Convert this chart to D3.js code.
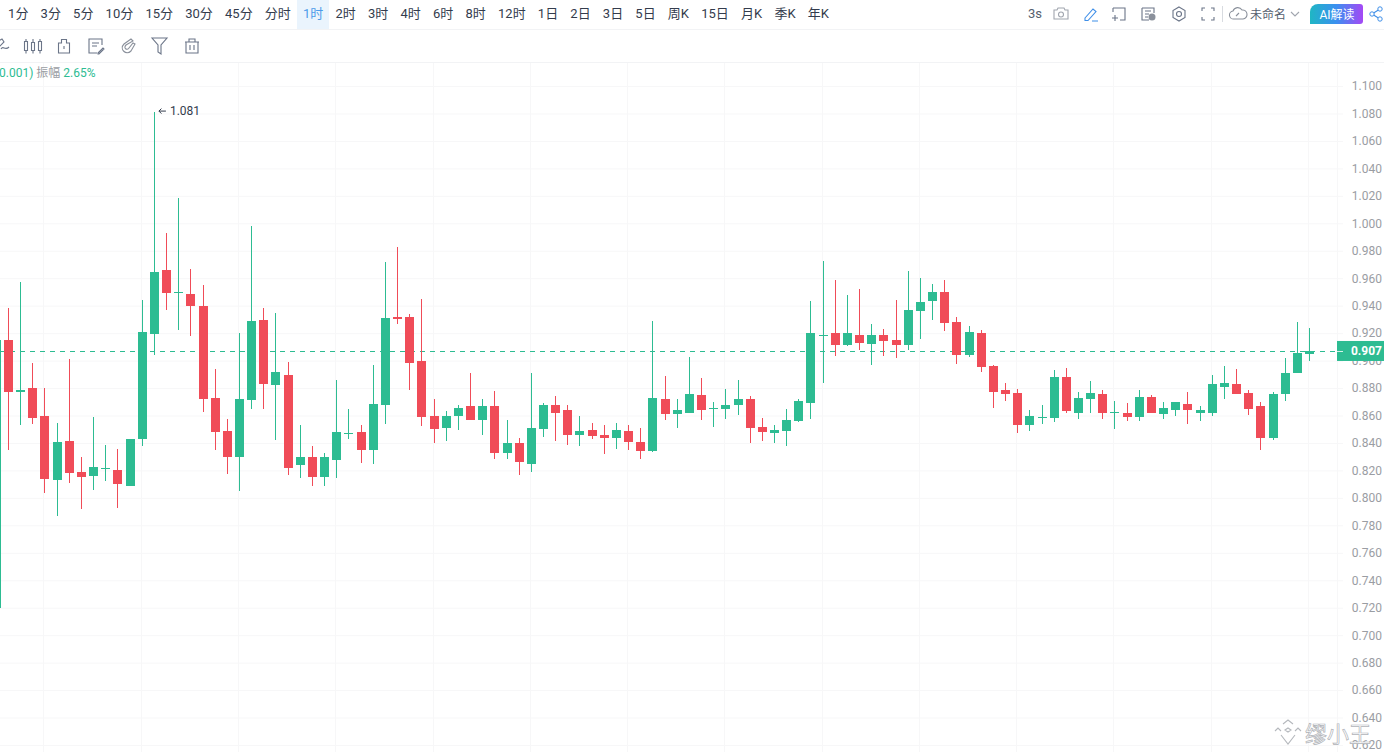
<!DOCTYPE html>
<html>
<head>
<meta charset="utf-8">
<script src="https://cdn.jsdelivr.net/npm/d3@7"></script>
<style>
  html, body { margin: 0; padding: 0; background: #fff; overflow: hidden; }
  #wrap { position: relative; width: 1384px; height: 752px; overflow: hidden; }
  svg { position: absolute; left: 0; top: 0; }
  text { font-family: Roboto, "Noto Sans CJK SC", sans-serif; }
  #periods { position: absolute; left: 2px; top: 0; height: 29px; display: flex; font: 13px/27px Roboto, "Noto Sans CJK SC", sans-serif; color: #333c4d; }
  #periods span { padding: 0 6.1px; white-space: nowrap; }
  #periods span.on { background: #eaf4fd; color: #4c9bea; }
</style>
</head>
<body>
<div id="wrap">
  <svg id="chart" width="1384" height="752"></svg>
  <div id="periods"></div>
</div>
<script>
var periods = ["1分","3分","5分","10分","15分","30分","45分","分时","1时","2时","3时","4时","6时","8时","12时","1日","2日","3日","5日","周K","15日","月K","季K","年K"];
var activePeriod = "1时";

var priceTicks = [1.10,1.08,1.06,1.04,1.02,1.00,0.98,0.96,0.94,0.92,0.90,0.88,0.86,0.84,0.82,0.80,0.78,0.76,0.74,0.72,0.70,0.68,0.66,0.64,0.62];
var lastPrice = 0.907;
var peakPrice = 1.081;

// first candle is cut off by the left edge of the window
var opens = [0.7199,0.9150,0.8772,0.8801,0.8597,0.8131,0.8415,0.8189,0.8160,0.8211,0.8204,0.8087,0.8430,0.9194,0.9660,0.9492,0.9485,0.9398,0.8728,0.8488,0.8298,0.8713,0.9296,0.8823,0.8895,0.8240,0.8298,0.8153,0.8277,0.8462,0.8480,0.8349,0.8677,0.9318,0.9318,0.8997,0.8597,0.8510,0.8597,0.8670,0.8568,0.8670,0.8328,0.8400,0.8248,0.8502,0.8677,0.8641,0.8459,0.8495,0.8459,0.8437,0.8488,0.8408,0.8342,0.8721,0.8612,0.8619,0.8750,0.8648,0.8648,0.8677,0.8721,0.8517,0.8473,0.8488,0.8561,0.8692,0.9180,0.9201,0.9114,0.9187,0.9121,0.9187,0.9150,0.9114,0.9361,0.9434,0.9500,0.9281,0.9041,0.9201,0.8961,0.8786,0.8764,0.8531,0.8585,0.8582,0.8881,0.8619,0.8721,0.8757,0.8622,0.8619,0.8590,0.8735,0.8612,0.8641,0.8684,0.8619,0.8619,0.8808,0.8830,0.8764,0.8670,0.8437,0.8757,0.8910,0.9048];
var highs = [0.9150,0.9383,0.9572,0.8983,0.8801,0.8546,0.9012,0.8298,0.8590,0.8386,0.8357,0.8430,0.9441,1.0810,0.9929,1.0184,0.9667,0.9551,0.8939,0.8575,0.9201,0.9980,0.9383,0.9347,0.8990,0.8531,0.8379,0.8328,0.8859,0.8648,0.8531,0.8968,0.9718,0.9827,0.9340,0.9449,0.8721,0.8633,0.8677,0.8910,0.8721,0.8779,0.8568,0.8437,0.8910,0.8692,0.8743,0.8677,0.8597,0.8546,0.8531,0.8546,0.8531,0.8510,0.9289,0.8888,0.8721,0.9026,0.8874,0.8699,0.8794,0.8859,0.8743,0.8582,0.8531,0.8648,0.8721,0.9434,0.9725,0.9587,0.9478,0.9522,0.9267,0.9230,0.9441,0.9653,0.9602,0.9558,0.9587,0.9318,0.9252,0.9223,0.8968,0.8837,0.8794,0.8641,0.8677,0.8932,0.8946,0.8772,0.8852,0.8786,0.8706,0.8692,0.8786,0.8750,0.8699,0.8699,0.8772,0.8670,0.8895,0.8961,0.8939,0.8786,0.8699,0.8772,0.9019,0.9281,0.9238];
var lows = [0.7199,0.8349,0.8531,0.8539,0.8036,0.7869,0.8109,0.7920,0.8058,0.8124,0.7927,0.8087,0.8379,0.9041,0.9369,0.9223,0.9179,0.8626,0.8349,0.8175,0.8051,0.8648,0.8648,0.8422,0.8167,0.8146,0.8087,0.8087,0.8146,0.8430,0.8255,0.8248,0.8539,0.9267,0.8786,0.8524,0.8400,0.8415,0.8495,0.8568,0.8459,0.8284,0.8284,0.8167,0.8189,0.8444,0.8415,0.8386,0.8379,0.8430,0.8320,0.8357,0.8349,0.8284,0.8335,0.8568,0.8510,0.8619,0.8568,0.8517,0.8575,0.8604,0.8400,0.8415,0.8400,0.8379,0.8553,0.8575,0.8837,0.9034,0.9107,0.9077,0.8968,0.9034,0.9019,0.9077,0.9158,0.9296,0.9216,0.8976,0.9026,0.8917,0.8655,0.8706,0.8473,0.8488,0.8539,0.8553,0.8619,0.8575,0.8619,0.8575,0.8502,0.8561,0.8561,0.8619,0.8575,0.8597,0.8539,0.8561,0.8597,0.8721,0.8757,0.8604,0.8349,0.8422,0.8706,0.8910,0.8997];
var closes = [0.9150,0.8772,0.8786,0.8582,0.8138,0.8408,0.8182,0.8153,0.8226,0.8218,0.8102,0.8430,0.9208,0.9645,0.9492,0.9500,0.9398,0.8721,0.8480,0.8298,0.8721,0.9289,0.8830,0.8917,0.8218,0.8298,0.8153,0.8298,0.8480,0.8470,0.8349,0.8684,0.9310,0.9303,0.8983,0.8590,0.8502,0.8597,0.8655,0.8568,0.8670,0.8328,0.8400,0.8262,0.8510,0.8677,0.8619,0.8459,0.8488,0.8451,0.8437,0.8495,0.8408,0.8342,0.8728,0.8612,0.8641,0.8757,0.8641,0.8655,0.8677,0.8721,0.8510,0.8480,0.8495,0.8568,0.8706,0.9201,0.9187,0.9114,0.9201,0.9128,0.9187,0.9143,0.9114,0.9369,0.9427,0.9500,0.9274,0.9041,0.9208,0.8954,0.8772,0.8757,0.8531,0.8597,0.8590,0.8881,0.8633,0.8728,0.8764,0.8619,0.8626,0.8590,0.8735,0.8619,0.8655,0.8699,0.8641,0.8641,0.8830,0.8837,0.8757,0.8648,0.8437,0.8757,0.8910,0.9056,0.9070];

var green = "#2dbc92", red = "#f04c58", iconGrey = "#6b7588", blue = "#3f8fe8", gridColor = "#f7f7f8";

var svg = d3.select("#chart");

// index -1 is the clipped candle, index 107 the newest one
var x = d3.scaleLinear().domain([0, 107]).range([8.5, 1309.5]);
var y = d3.scaleLinear().domain([0.62, 1.10]).range([745, 86]);
var candles = opens.map(function(o, i) {
  return { i: i - 1, o: o, h: highs[i], l: lows[i], c: closes[i] };
});

// grid
var gridX = d3.range(3, 108, 8);
svg.append("g").selectAll("line").data(gridX).join("line")
  .attr("x1", function(d) { return Math.floor(x(d)) - 0.5; })
  .attr("x2", function(d) { return Math.floor(x(d)) - 0.5; })
  .attr("y1", 62).attr("y2", 752)
  .attr("stroke", gridColor);
svg.append("line").attr("x1", 1337.5).attr("x2", 1337.5).attr("y1", 62).attr("y2", 752).attr("stroke", gridColor);

var axis = d3.axisRight(y).tickValues(priceTicks).tickFormat(d3.format(".3f")).tickSize(1343).tickPadding(0);
var axisG = svg.append("g").call(axis);
axisG.select(".domain").remove();
axisG.selectAll(".tick line").attr("stroke", gridColor);
axisG.selectAll(".tick text")
  .attr("x", 1382).attr("text-anchor", "end")
  .attr("fill", "#9a9da3").style("font-size", "12px").style("font-family", "Roboto");

// last price line goes under the candles
svg.append("line")
  .attr("x1", 0).attr("x2", 1337)
  .attr("y1", Math.round(y(lastPrice)) + 0.5).attr("y2", Math.round(y(lastPrice)) + 0.5)
  .attr("stroke", green).attr("stroke-dasharray", "5,5");

// candles
var candle = svg.append("g").attr("shape-rendering", "crispEdges")
  .selectAll("g").data(candles).join("g")
  .attr("fill", function(d) { return d.c >= d.o ? green : red; });
candle.append("rect")
  .attr("x", function(d) { return Math.floor(x(d.i)); })
  .attr("width", 1)
  .attr("y", function(d) { return Math.round(y(d.h)); })
  .attr("height", function(d) { return Math.max(1, Math.round(y(d.l)) - Math.round(y(d.h))); });
candle.append("rect")
  .attr("x", function(d) { return Math.floor(x(d.i)) - 4; })
  .attr("width", 9)
  .attr("y", function(d) { return Math.round(y(Math.max(d.o, d.c))); })
  .attr("height", function(d) { return Math.max(1, Math.round(y(Math.min(d.o, d.c))) - Math.round(y(Math.max(d.o, d.c)))); });

// peak annotation
var peakX = x(12) + 4.5, peakY = y(peakPrice) - 1;
svg.append("path")
  .attr("d", "M" + peakX + "," + peakY + "h7 M" + peakX + "," + peakY + "l2.5,-2.5 M" + peakX + "," + peakY + "l2.5,2.5")
  .attr("fill", "none").attr("stroke", "#333c4d");
svg.append("text").attr("x", peakX + 11).attr("y", peakY + 4)
  .attr("font-size", 12).attr("fill", "#333c4d").text(d3.format(".3f")(peakPrice));

// last price tag
svg.append("rect").attr("x", 1337).attr("y", y(lastPrice) - 10).attr("width", 47).attr("height", 20).attr("fill", green);
svg.append("rect").attr("x", 1337).attr("y", Math.round(y(lastPrice))).attr("width", 6).attr("height", 1).attr("fill", "#fff").attr("opacity", 0.8);
svg.append("text").attr("x", 1382).attr("y", y(lastPrice) + 4.5).attr("text-anchor", "end")
  .attr("font-size", 12).attr("font-weight", 700).attr("fill", "#fff").text(d3.format(".3f")(lastPrice));

// info row
var info = svg.append("text").attr("x", -1).attr("y", 77).attr("font-size", 12);
info.append("tspan").attr("fill", green).text("0.001)");
info.append("tspan").attr("fill", "#9a9da3").attr("dx", 3).text("振幅");
info.append("tspan").attr("fill", green).attr("dx", 3).text("2.65%");

// toolbars
[29.5, 62.5].forEach(function(ly) {
  svg.append("line").attr("x1", 0).attr("x2", 1384).attr("y1", ly).attr("y2", ly).attr("stroke", "#f2f3f5");
});
d3.select("#periods").selectAll("span").data(periods).join("span")
  .classed("on", function(d) { return d === activePeriod; })
  .text(function(d) { return d; });

function icon(px, py, color, d) {
  return svg.append("path").attr("transform", "translate(" + px + "," + py + ")")
    .attr("d", d).attr("fill", "none").attr("stroke", color).attr("stroke-width", 1.1);
}
// drawing tools row
icon(0, 46, iconGrey, "M-3,-4 L2,-7 L4,-4 L0,0 Z M1,3 C3,-1 5,5 9,1");
icon(33, 46, iconGrey, "M-8.5,-4.5h3v9h-3z M-7,-7v2.5 M-7,4.5v3 M-1.5,-3.5h3v8h-3z M0,-7v3.5 M0,4.5v3 M5.5,-4.5h3v9h-3z M7,-7v2.5 M7,4.5v3");
icon(64, 46, iconGrey, "M-5.5,-3h3v-3.5h5v3.5h3v10h-11z M0,0v3");
icon(96, 46, iconGrey, "M6,-1v-6h-13v14h8 M-4,-3h7 M-4,0h5 M2,7l5,-5l1,1l-5,5h-1z");
icon(128, 46, "#8a909b", "M3,-7 L-4,-2 C-9,3 -2,10 3,5 L7,-2 L5,-3 L1,2 C-1,5 -5,2 -2,-1 L5,-5 Z");
icon(160, 46, iconGrey, "M-8,-8h15l-6,7v9l-3,-2v-7z");
icon(192, 46, iconGrey, "M-7,-4h14 M-6,-4v11h12v-11 M-3,-4v-3h6v3 M-2,-1v5 M2,-1v5");

// right side tools
svg.append("text").attr("x", 1028).attr("y", 18).attr("font-size", 13).attr("fill", "#555e6e").text("3s");
icon(1061, 14, "#a0a5ae", "M-7,-4h3l1,-2h6l1,2h3v9h-14z M2.5,0.5a2.5,2.5 0 1,1 -5,0a2.5,2.5 0 1,1 5,0");
icon(1091, 14, blue, "M-6,4l8,-9l3,2.5l-8,9h-3z M1,7h6");
icon(1119, 14, iconGrey, "M-6,-6h12v12h-5 M-7,4h6 M-4,1v6 M-6,-6v4");
icon(1149, 14, iconGrey, "M-7,-6h12v5 M-7,-6v12h7 M-4,-3h6 M-4,0h4 M-4,3h3");
svg.append("circle").attr("cx", 1152).attr("cy", 17).attr("r", 3.5).attr("fill", "#8a909b");
icon(1179, 14, iconGrey, "M0,-7l6,3.5v7l-6,3.5l-6,-3.5v-7z M2.5,0a2.5,2.5 0 1,1 -5,0a2.5,2.5 0 1,1 5,0");
icon(1208, 14, iconGrey, "M-6,-3v-3h3 M3,-6h3v3 M6,3v3h-3 M-3,6h-3v-3");
svg.append("line").attr("x1", 1222.5).attr("x2", 1222.5).attr("y1", 6).attr("y2", 22).attr("stroke", "#d8dbe0");
icon(1238, 14, "#8a909b", "M-4,5a4,4 0 0,1 -1,-8a5,5 0 0,1 9,-1a4.5,4.5 0 0,1 1,9z M-2,2l3,-3");
svg.append("text").attr("x", 1250).attr("y", 19).attr("font-size", 12).attr("fill", "#555e6e").text("未命名");
icon(1295, 14, "#a0a5ae", "M-4,-2l4,4l4,-4");

var aiGrad = svg.append("defs").append("linearGradient").attr("id", "ai");
aiGrad.append("stop").attr("offset", "0%").attr("stop-color", "#1fb6c4");
aiGrad.append("stop").attr("offset", "50%").attr("stop-color", "#3b8ff0");
aiGrad.append("stop").attr("offset", "100%").attr("stop-color", "#a548f5");
svg.append("path").attr("d", "M1318,4h42a3,3 0 0,1 3,3v14a3,3 0 0,1 -3,3h-50v-12a8,8 0 0,1 8,-8z").attr("fill", "url(#ai)");
svg.append("text").attr("x", 1337).attr("y", 18.5).attr("text-anchor", "middle")
  .attr("font-size", 12).attr("fill", "#fff").text("AI解读");
icon(1378, 14, blue, "M-6,0l8,-5 M-6,0l8,5");
[[1372, 14], [1380, 9], [1380, 19]].forEach(function(p) {
  svg.append("circle").attr("cx", p[0]).attr("cy", p[1]).attr("r", 2.2).attr("fill", "#fff").attr("stroke", blue);
});

// watermark
icon(1288, 733, "#b5b8bd", "M-5,-9l5,-4l5,4 M-13,-2l3,-3l3,3 M7,-2l3,-3l3,3 M-3,-3l3,-2l3,2l-3,2z M-7,2l7,9l7,-9");
svg.append("text").attr("x", 1305).attr("y", 742).attr("font-size", 22)
  .attr("fill", "#fff").attr("stroke", "#b0b3b8").attr("stroke-width", 0.7).text("缪小王");
</script>
</body>
</html>
